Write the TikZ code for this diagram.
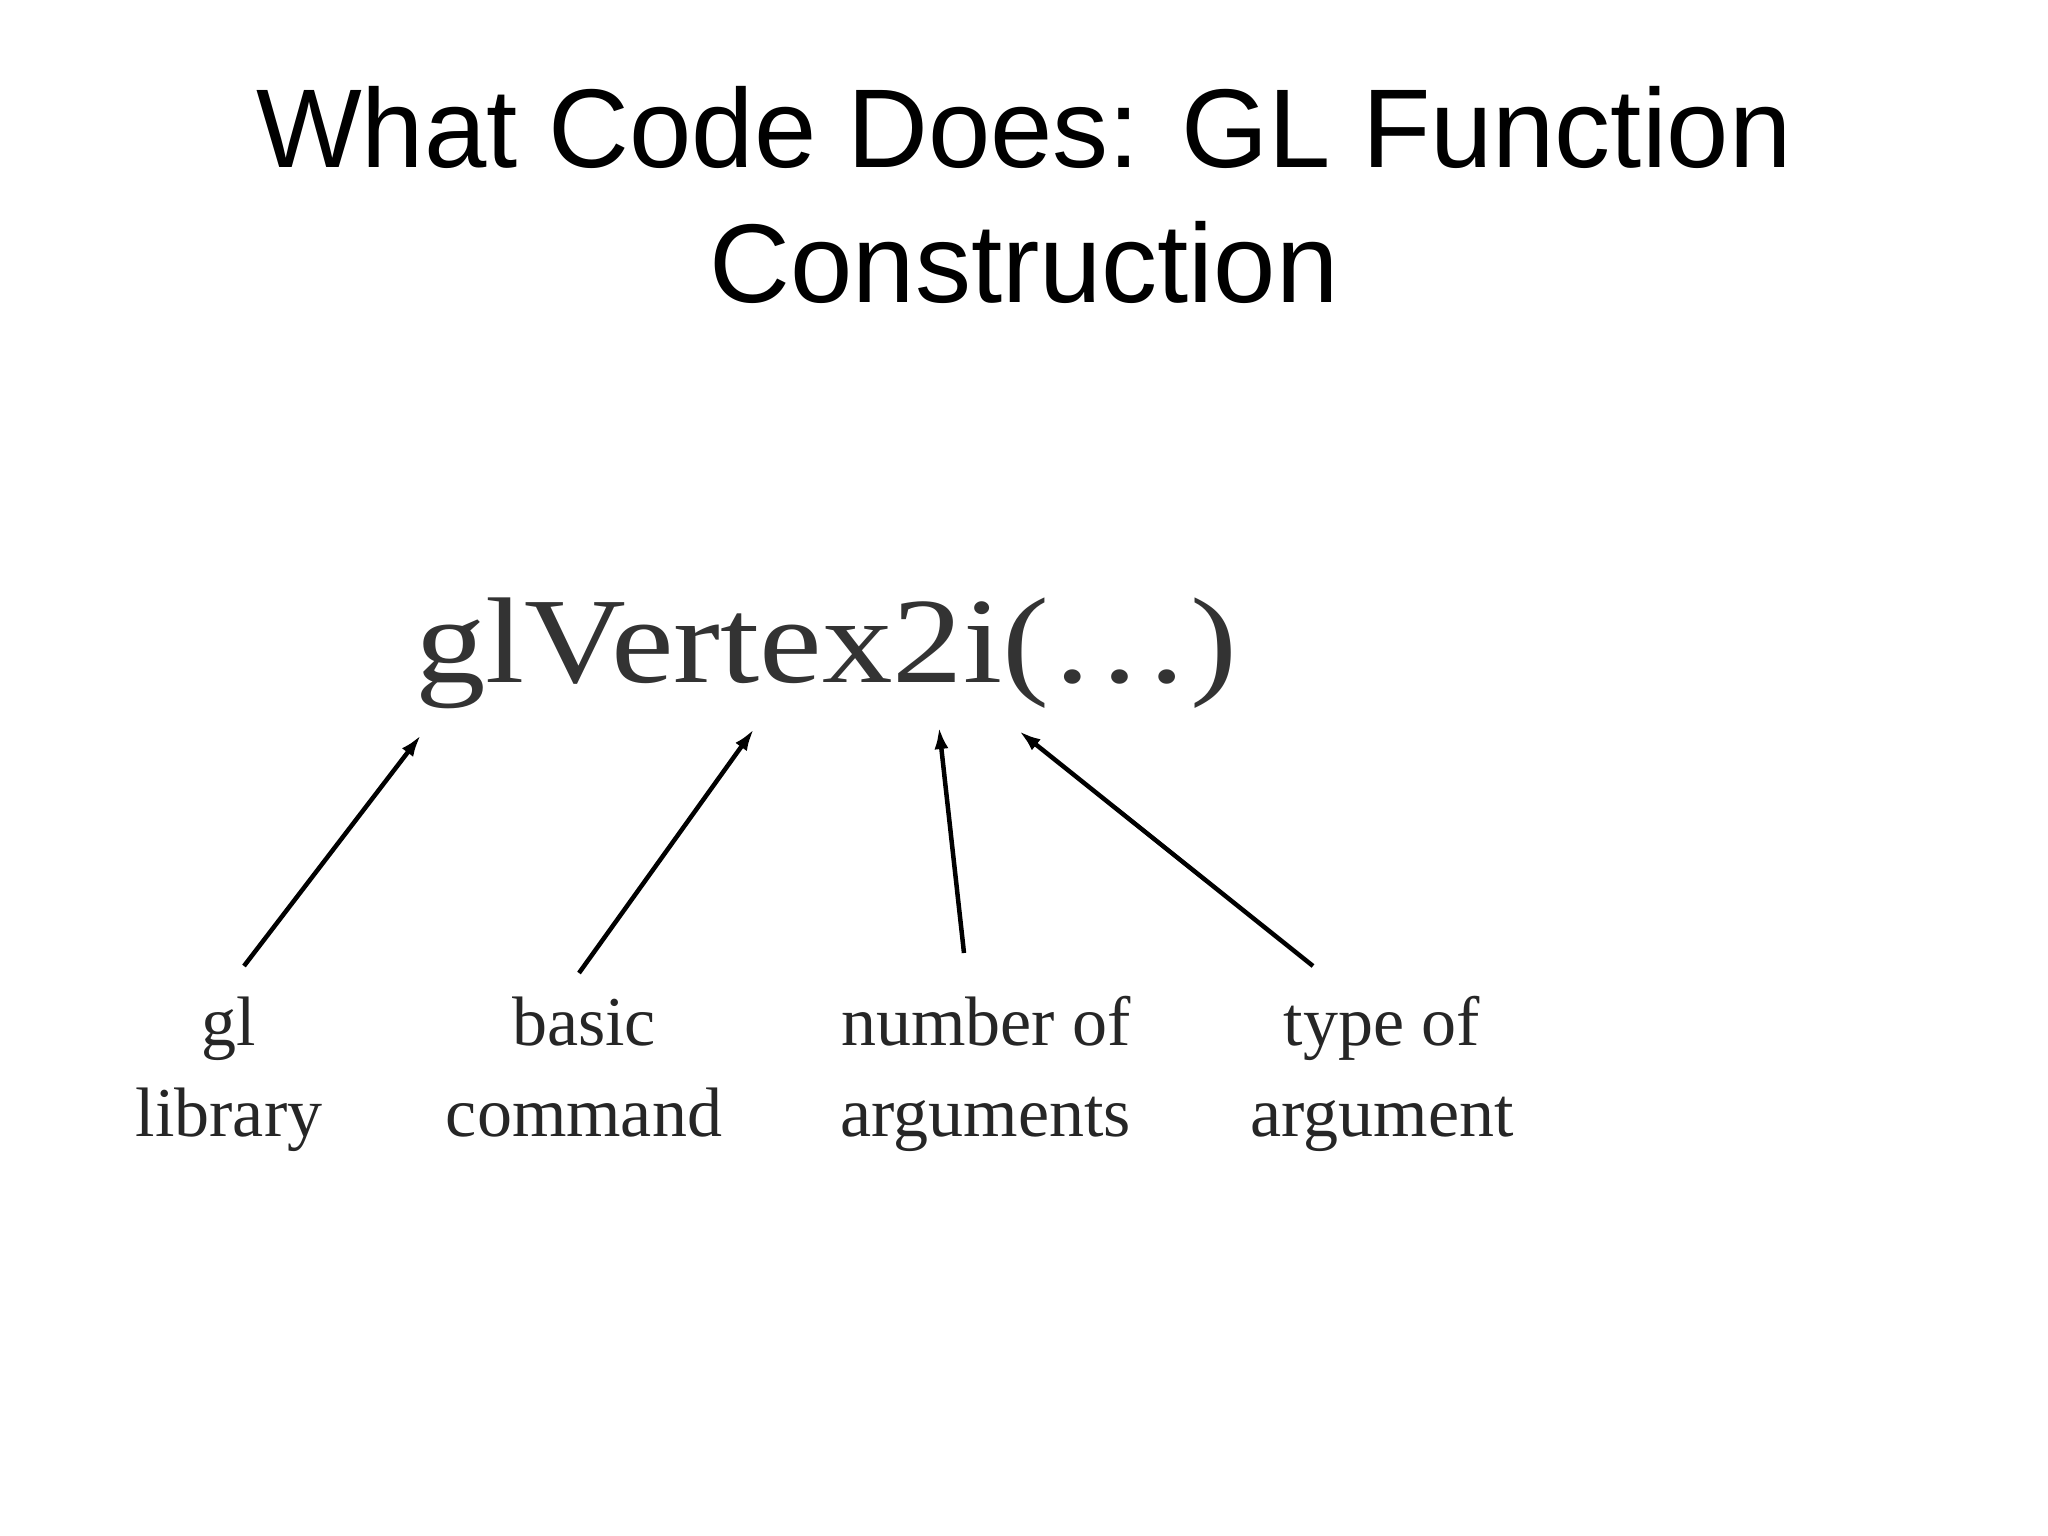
\documentclass[tikz,border=0pt]{standalone}
\usepackage{fontspec}
\usetikzlibrary{arrows.meta}
\setmainfont{Liberation Serif}
\newfontfamily\titlefont{Liberation Sans}
\begin{document}
\begin{tikzpicture}[x=1pt,y=-1pt,
  lab/.style={align=center,font=\fontsize{70}{91}\selectfont,inner sep=0pt,anchor=base,text=black!85},
  arr/.style={-{Latex[length=22pt,width=14pt]},line width=4.5pt}]
\useasboundingbox (0,0) rectangle (2048,1536);
\node[font=\titlefont\fontsize{112}{135}\selectfont,align=center,anchor=base,inner sep=0pt] (title) at (1024,302) {What Code Does: GL Function\\Construction};
\node[font=\fontsize{122}{122}\selectfont,anchor=base west,inner sep=0pt,text=black!80,xscale=1.155] (fn) at (415,682) {glVertex2i(\dots)};
\node[lab] (l1) at (229,1136) {gl\\library};
\node[lab] (l2) at (584,1136) {basic\\command};
\node[lab] (l3) at (986,1136) {number of\\arguments};
\node[lab] (l4) at (1382,1136) {type of\\argument};
\coordinate (s1) at (244,966); \coordinate (t1) at (421,735);
\coordinate (s2) at (579,973); \coordinate (t2) at (754,729);
\coordinate (s3) at (964,953); \coordinate (t3) at (939,727);
\coordinate (s4) at (1313,966); \coordinate (t4) at (1019,731);
\draw[arr] (s1) -- (t1);
\draw[arr] (s2) -- (t2);
\draw[arr] (s3) -- (t3);
\draw[arr] (s4) -- (t4);
\end{tikzpicture}
\end{document}
